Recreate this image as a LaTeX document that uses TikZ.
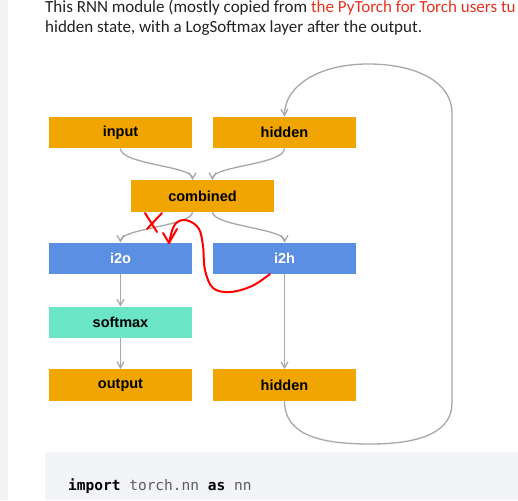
\documentclass[tikz,border=0pt]{standalone}
\usepackage{fontspec}
\setmainfont{Carlito}
\newfontfamily\boxfont{Liberation Sans Bold}
\newfontfamily\codefont{DejaVu Sans Mono}
\newfontfamily\codefontb{DejaVu Sans Mono Bold}
\usetikzlibrary{arrows.meta}
\definecolor{orng}{HTML}{F0A500}
\definecolor{blu}{HTML}{5A8FE3}
\definecolor{teal2}{HTML}{6AE5C5}
\definecolor{conncol}{HTML}{A8A8A8}
\definecolor{linkred}{HTML}{E8321E}
\definecolor{bodytext}{HTML}{222222}
\definecolor{codebg}{HTML}{F3F4F7}
\definecolor{stripbg}{HTML}{F2F3F5}
\definecolor{codegrey}{HTML}{5E5E5E}
\begin{document}
\begin{tikzpicture}[x=1pt,y=-1pt,
  layer/.style={minimum width=143pt,minimum height=31.5pt,inner sep=0pt,
    font=\boxfont\fontsize{14.5}{16}\selectfont},
  orangebox/.style={layer,fill=orng,text=black},
  bluebox/.style={layer,fill=blu,text=white},
  tealbox/.style={layer,fill=teal2,text=black},
  conn/.style={draw=conncol,line width=1.3pt,-{Straight Barb[length=6pt,width=7pt]}},
  loopline/.style={draw=conncol,line width=1.3pt},
  scribble/.style={draw=red,line width=2pt,line cap=round,line join=round},
  bodyline/.style={anchor=base west,inner sep=0pt,text=bodytext,font=\fontsize{17}{20}\selectfont}]
\useasboundingbox (0,0) rectangle (518,500);
\clip (0,0) rectangle (518,500);
\fill[white] (0,0) rectangle (518,500);
\fill[stripbg] (0,0) rectangle (8,500);
% paragraph text
\node[bodyline] (line1) at (45,12.5) {This RNN module (mostly copied from \textcolor{linkred}{the PyTorch for Torch users tu}};
\node[bodyline] (line2) at (45,33) {hidden state, with a LogSoftmax layer after the output.};
% boxes
\node[orangebox] (input) at (120.5,132.5) {input};
\node[orangebox] (hidden1) at (284.5,132.5) {hidden};
\node[orangebox] (combined) at (202.5,196) {combined};
\node[bluebox] (i2o) at (120.5,258.5) {i2o};
\node[bluebox] (i2h) at (284.5,258.5) {i2h};
\node[tealbox] (softmax) at (120.5,322.5) {softmax};
\node[orangebox] (output) at (120.5,385) {output};
\node[orangebox] (hidden2) at (284.5,385) {hidden};
% connectors
\draw[conn] (input.south) .. controls +(0,16) and +(0,-14) .. ([xshift=-10pt]combined.north);
\draw[conn] (hidden1.south) .. controls +(0,16) and +(0,-14) .. ([xshift=10pt]combined.north);
\draw[conn] ([xshift=-10pt]combined.south) .. controls +(0,14) and +(0,-14) .. (i2o.north);
\draw[conn] ([xshift=10pt]combined.south) .. controls +(0,14) and +(0,-14) .. (i2h.north);
\draw[conn] (i2o.south) -- (softmax.north);
\draw[conn] (softmax.south) -- (output.north);
\draw[conn] (i2h.south) -- (hidden2.north);
\coordinate (loopbot) at (370,444);
\coordinate (loopr1) at (452,403);
\coordinate (loopr2) at (452,113);
\coordinate (looptop) at (368,64);
\draw[loopline] (hidden2.south) .. controls +(0,34) and +(-50,0) .. (loopbot)
  .. controls +(55,0) and +(0,27) .. (loopr1) -- (loopr2)
  .. controls +(0,-30) and +(50,0) .. (looptop);
\draw[conn] (looptop) .. controls +(-50,0) and +(0,-30) .. (hidden1.north);
% red annotations
\draw[scribble] (145,213) -- (157,232);
\draw[scribble] (162,213) -- (147,229);
\draw[scribble] plot[smooth,tension=0.6] coordinates {(270,274) (252,286) (230,292) (213,288) (205,270) (203,246) (199,229) (189,221) (179,221) (173,228) (169,243)};
\draw[scribble] (163,233) -- (169,243) -- (177,229);
% code block
\fill[codebg] (45,452) rectangle (518,500);
\node[anchor=base west,inner sep=0pt,font=\codefont\fontsize{14.5}{16}\selectfont] (code) at (68,490)
  {{\codefontb import} \textcolor{codegrey}{torch.nn} {\codefontb as} \textcolor{codegrey}{nn}};
\end{tikzpicture}
\end{document}
